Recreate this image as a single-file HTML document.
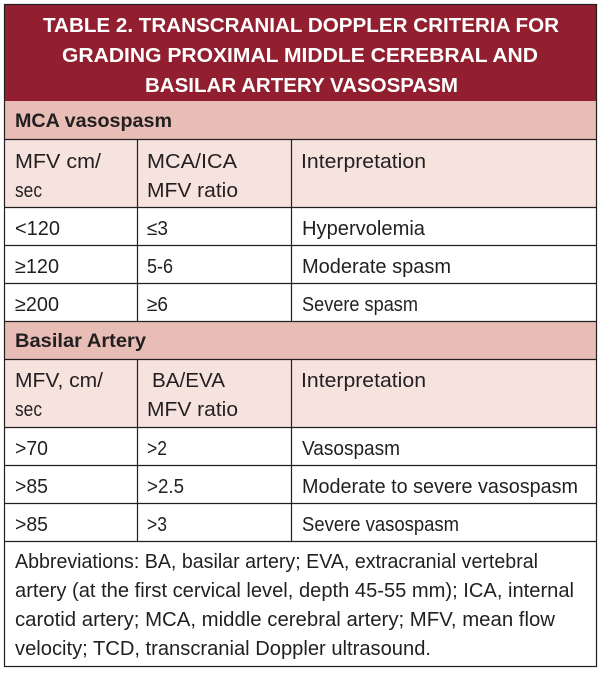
<!DOCTYPE html>
<html>
<head>
<meta charset="utf-8">
<style>
  html,body{margin:0;padding:0;background:#fff;}
  svg{display:block;}
  .t{font-family:"Liberation Sans",Arial,sans-serif;font-size:20px;fill:#231f20;}
  .b{font-family:"Liberation Sans",Arial,sans-serif;font-size:19.5px;font-weight:bold;fill:#231f20;}
  .h{font-family:"Liberation Sans",Arial,sans-serif;font-size:20px;font-weight:bold;fill:#ffffff;}
</style>
</head>
<body>
<svg width="600" height="674" viewBox="0 0 600 674" xmlns="http://www.w3.org/2000/svg">
  <rect x="0" y="0" width="600" height="674" fill="#ffffff"/>
  <!-- title background -->
  <rect x="4" y="4" width="593" height="97" fill="#911f2f"/>
  <!-- section 1 -->
  <rect x="4" y="101" width="593" height="38" fill="#e8bdb5"/>
  <!-- header 1 -->
  <rect x="4" y="139" width="593" height="68" fill="#f6e3de"/>
  <!-- section 2 -->
  <rect x="4" y="321" width="593" height="38" fill="#e8bdb5"/>
  <!-- header 2 -->
  <rect x="4" y="359" width="593" height="68" fill="#f6e3de"/>

  <g stroke="#231f20" stroke-width="1.2" fill="none">
    <rect x="4.5" y="4.5" width="592" height="662"/>
    <line x1="4" y1="139.5" x2="597" y2="139.5"/>
    <line x1="4" y1="207.5" x2="597" y2="207.5"/>
    <line x1="4" y1="245.5" x2="597" y2="245.5"/>
    <line x1="4" y1="283.5" x2="597" y2="283.5"/>
    <line x1="4" y1="321.5" x2="597" y2="321.5"/>
    <line x1="4" y1="359.5" x2="597" y2="359.5"/>
    <line x1="4" y1="427.5" x2="597" y2="427.5"/>
    <line x1="4" y1="465.5" x2="597" y2="465.5"/>
    <line x1="4" y1="503.5" x2="597" y2="503.5"/>
    <line x1="4" y1="541.5" x2="597" y2="541.5"/>
    <line x1="137.5" y1="139" x2="137.5" y2="321"/>
    <line x1="291.5" y1="139" x2="291.5" y2="321"/>
    <line x1="137.5" y1="359" x2="137.5" y2="541"/>
    <line x1="291.5" y1="359" x2="291.5" y2="541"/>
  </g>

  <!-- title -->
  <text class="h" x="43" y="32" textLength="516" lengthAdjust="spacingAndGlyphs">TABLE 2. TRANSCRANIAL DOPPLER CRITERIA FOR</text>
  <text class="h" x="62" y="62" textLength="476" lengthAdjust="spacingAndGlyphs">GRADING PROXIMAL MIDDLE CEREBRAL AND</text>
  <text class="h" x="145" y="92" textLength="313" lengthAdjust="spacingAndGlyphs">BASILAR ARTERY VASOSPASM</text>

  <!-- MCA section -->
  <text class="b" x="15" y="127" textLength="157" lengthAdjust="spacingAndGlyphs">MCA vasospasm</text>

  <text class="t" x="15" y="168" textLength="86" lengthAdjust="spacingAndGlyphs">MFV cm/</text>
  <text class="t" x="15" y="197" textLength="27" lengthAdjust="spacingAndGlyphs">sec</text>
  <text class="t" x="147" y="168" textLength="90" lengthAdjust="spacingAndGlyphs">MCA/ICA</text>
  <text class="t" x="147" y="197" textLength="91" lengthAdjust="spacingAndGlyphs">MFV ratio</text>
  <text class="t" x="301" y="168" textLength="125" lengthAdjust="spacingAndGlyphs">Interpretation</text>

  <text class="t" x="15" y="235" textLength="45" lengthAdjust="spacingAndGlyphs">&lt;120</text>
  <text class="t" x="147" y="235" textLength="21" lengthAdjust="spacingAndGlyphs">≤3</text>
  <text class="t" x="302" y="235" textLength="123" lengthAdjust="spacingAndGlyphs">Hypervolemia</text>

  <text class="t" x="15" y="273" textLength="44" lengthAdjust="spacingAndGlyphs">≥120</text>
  <text class="t" x="147" y="273" textLength="26" lengthAdjust="spacingAndGlyphs">5-6</text>
  <text class="t" x="302" y="273" textLength="149" lengthAdjust="spacingAndGlyphs">Moderate spasm</text>

  <text class="t" x="15" y="311" textLength="44" lengthAdjust="spacingAndGlyphs">≥200</text>
  <text class="t" x="147" y="311" textLength="21" lengthAdjust="spacingAndGlyphs">≥6</text>
  <text class="t" x="302" y="311" textLength="116" lengthAdjust="spacingAndGlyphs">Severe spasm</text>

  <!-- Basilar section -->
  <text class="b" x="15" y="347" textLength="131" lengthAdjust="spacingAndGlyphs">Basilar Artery</text>

  <text class="t" x="15" y="387" textLength="88" lengthAdjust="spacingAndGlyphs">MFV, cm/</text>
  <text class="t" x="15" y="416" textLength="27" lengthAdjust="spacingAndGlyphs">sec</text>
  <text class="t" x="152" y="387" textLength="73" lengthAdjust="spacingAndGlyphs">BA/EVA</text>
  <text class="t" x="147" y="416" textLength="91" lengthAdjust="spacingAndGlyphs">MFV ratio</text>
  <text class="t" x="301" y="387" textLength="125" lengthAdjust="spacingAndGlyphs">Interpretation</text>

  <text class="t" x="15" y="455" textLength="33" lengthAdjust="spacingAndGlyphs">&gt;70</text>
  <text class="t" x="147" y="455" textLength="20" lengthAdjust="spacingAndGlyphs">&gt;2</text>
  <text class="t" x="302" y="455" textLength="98" lengthAdjust="spacingAndGlyphs">Vasospasm</text>

  <text class="t" x="15" y="493" textLength="33" lengthAdjust="spacingAndGlyphs">&gt;85</text>
  <text class="t" x="147" y="493" textLength="37" lengthAdjust="spacingAndGlyphs">&gt;2.5</text>
  <text class="t" x="302" y="493" textLength="276" lengthAdjust="spacingAndGlyphs">Moderate to severe vasospasm</text>

  <text class="t" x="15" y="531" textLength="33" lengthAdjust="spacingAndGlyphs">&gt;85</text>
  <text class="t" x="147" y="531" textLength="20" lengthAdjust="spacingAndGlyphs">&gt;3</text>
  <text class="t" x="302" y="531" textLength="157" lengthAdjust="spacingAndGlyphs">Severe vasospasm</text>

  <!-- abbreviations -->
  <text class="t" x="15" y="568" textLength="523" lengthAdjust="spacingAndGlyphs">Abbreviations: BA, basilar artery; EVA, extracranial vertebral</text>
  <text class="t" x="15" y="597" textLength="559" lengthAdjust="spacingAndGlyphs">artery (at the first cervical level, depth 45-55 mm); ICA, internal</text>
  <text class="t" x="15" y="626" textLength="540" lengthAdjust="spacingAndGlyphs">carotid artery; MCA, middle cerebral artery; MFV, mean flow</text>
  <text class="t" x="15" y="655" textLength="416" lengthAdjust="spacingAndGlyphs">velocity; TCD, transcranial Doppler ultrasound.</text>
</svg>
</body>
</html>
